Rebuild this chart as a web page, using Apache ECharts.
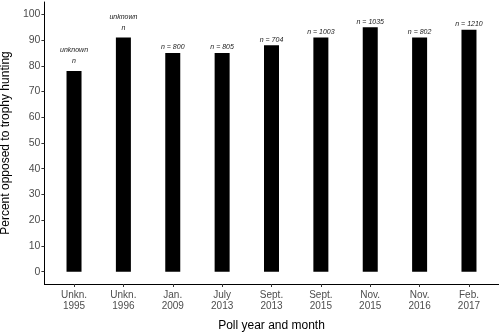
<!DOCTYPE html>
<html>
<head>
<meta charset="utf-8">
<script src="https://cdn.jsdelivr.net/npm/echarts@6/dist/echarts.min.js"></script>
<style>
  html, body { margin: 0; padding: 0; background: #fff; }
  #chart { width: 500px; height: 333px; }
</style>
</head>
<body>
<div id="chart"></div>
<script>
// Poll categories (month + year of each survey)
const categories = ['Unkn.\n1995', 'Unkn.\n1996', 'Jan.\n2009', 'July\n2013', 'Sept.\n2013',
                    'Sept.\n2015', 'Nov.\n2015', 'Nov.\n2016', 'Feb.\n2017'];
// Percent of respondents opposed to trophy hunting
const percentOpposed = [78, 91, 85, 85, 88, 91, 95, 91, 94];
// Sample size of each poll (null = not reported)
const sampleSizes = [null, null, 800, 805, 704, 1003, 1035, 802, 1210];
// Y-axis tick values
const yTicks = [0, 10, 20, 30, 40, 50, 60, 70, 80, 90, 100];

const font = 'Liberation Sans, Arial, sans-serif';
const xTicks = categories.map((_, i) => i);

const barData = percentOpposed.map((v, i) => {
  const n = sampleSizes[i];
  return {
    value: [i, v],
    label: n === null
      ? { formatter: 'unknown\nn', lineHeight: 11, distance: 4 }
      : { formatter: 'n = ' + n, lineHeight: 9, distance: 1 }
  };
});

const chart = echarts.init(document.getElementById('chart'), null, { renderer: 'canvas' });
chart.setOption({
  animation: false,
  backgroundColor: '#ffffff',
  grid: { left: 44.4, right: 1.4, top: 2, bottom: 49, containLabel: false, outerBoundsMode: 'none' },
  xAxis: {
    type: 'value',
    min: -0.6,
    max: 8.6,
    name: 'Poll year and month',
    nameLocation: 'middle',
    nameGap: 36,
    nameTextStyle: { fontFamily: font, fontSize: 12, color: '#000' },
    splitLine: { show: false },
    axisLine: { show: true, onZero: false, lineStyle: { color: '#000', width: 1 } },
    axisTick: { show: true, customValues: xTicks, length: 3, lineStyle: { color: '#333', width: 1 } },
    axisLabel: {
      customValues: xTicks,
      formatter: v => categories[Math.round(v)],
      fontFamily: font, fontSize: 10, color: '#4d4d4d',
      lineHeight: 11, margin: 6, align: 'center'
    }
  },
  yAxis: {
    type: 'value',
    min: -4.8,
    max: 104.8,
    name: 'Percent opposed to trophy hunting',
    nameLocation: 'middle',
    nameGap: 29,
    nameRotate: 90,
    nameTextStyle: { fontFamily: font, fontSize: 12, color: '#000' },
    splitLine: { show: false },
    axisLine: { show: true, onZero: false, lineStyle: { color: '#000', width: 1 } },
    axisTick: { show: true, customValues: yTicks, length: 3, lineStyle: { color: '#333', width: 1 } },
    axisLabel: {
      customValues: yTicks,
      fontFamily: font, fontSize: 10.5, color: '#4d4d4d', margin: 4
    }
  },
  series: [{
    type: 'bar',
    data: barData,
    barWidth: 15,
    itemStyle: { color: '#000' },
    label: {
      show: true,
      position: 'top',
      fontFamily: font,
      fontSize: 7,
      fontStyle: 'italic',
      color: '#1a1a1a',
      align: 'center'
    }
  }]
});
</script>
</body>
</html>
